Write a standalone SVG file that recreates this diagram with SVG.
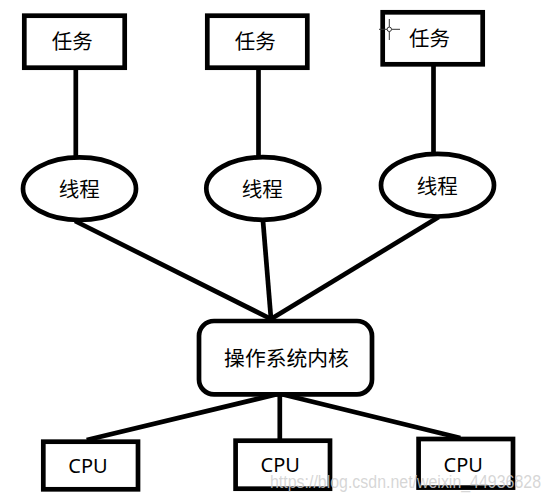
<svg xmlns="http://www.w3.org/2000/svg" width="551" height="503" viewBox="0 0 551 503">
<style>
.s{fill:#fff;stroke:#000;stroke-width:4.7}
.c line{stroke:#000;stroke-width:4.7;stroke-linecap:butt}
.t{font-family:"Noto Sans CJK SC","Microsoft YaHei",sans-serif;font-size:20.5px;text-anchor:middle;fill:#000}
.e{font-family:"Noto Sans","Liberation Sans",sans-serif;font-size:20px;text-anchor:middle;fill:#000}
</style>
<rect width="551" height="503" fill="#fff"/>
<g id="connectors" class="c">
<line x1="75.8" y1="68" x2="75.8" y2="157"/>
<line x1="258.5" y1="68" x2="258.5" y2="157"/>
<line x1="433.5" y1="64" x2="433.5" y2="154"/>
<line x1="75" y1="221" x2="271" y2="319"/>
<line x1="263" y1="221" x2="271" y2="319"/>
<line x1="438.7" y1="217" x2="271" y2="319"/>
<line x1="278" y1="394" x2="86.7" y2="440"/>
<line x1="279.8" y1="394" x2="279.8" y2="440"/>
<line x1="281" y1="394" x2="460.3" y2="438"/>
</g>
<g id="task1"><rect class="s" x="24.3" y="15.7" width="100.4" height="52"/><text class="t" x="72.2" y="49">任务</text></g>
<g id="task2"><rect class="s" x="207.3" y="15.7" width="100" height="52"/><text class="t" x="255.2" y="49">任务</text></g>
<g id="task3"><rect class="s" x="382.7" y="12.3" width="100" height="52"/><text class="t" x="429.5" y="46">任务</text></g>
<g id="cursor" stroke="#333" stroke-width="1" fill="none"><line x1="379" y1="29.3" x2="400" y2="29.3"/><line x1="389.3" y1="19" x2="389.3" y2="40"/><circle cx="389.3" cy="29.3" r="2.2" fill="#fff"/></g>
<g id="thread1"><ellipse class="s" cx="79.5" cy="188.7" rx="56.5" ry="31.3"/><text class="t" x="79.2" y="197">线程</text></g>
<g id="thread2"><ellipse class="s" cx="262.8" cy="188.5" rx="56.5" ry="31.3"/><text class="t" x="262.3" y="196.5">线程</text></g>
<g id="thread3"><ellipse class="s" cx="437.5" cy="185.2" rx="56.5" ry="31.3"/><text class="t" x="437.2" y="193.7">线程</text></g>
<g id="kernel"><rect class="s" x="199" y="321" width="173" height="73.4" rx="15" ry="15"/><text class="t" x="286.5" y="365.5" style="font-size:20.8px">操作系统内核</text></g>
<g id="cpu1"><rect class="s" x="43.3" y="441.7" width="94.7" height="47.6"/><text class="e" x="88" y="473.3">CPU</text></g>
<g id="cpu2"><rect class="s" x="235.6" y="440.7" width="94.4" height="48"/><text class="e" x="280.3" y="472.3">CPU</text></g>
<g id="cpu3"><rect class="s" x="418.6" y="439" width="94.4" height="48.6"/><text class="e" x="463.3" y="471.5">CPU</text></g>
<text x="270" y="488" font-family="Liberation Sans,sans-serif" font-size="18" fill="#cfcfcf" fill-opacity="0.85" textLength="271" lengthAdjust="spacingAndGlyphs">https://blog.csdn.net/weixin_44936828</text>
</svg>
